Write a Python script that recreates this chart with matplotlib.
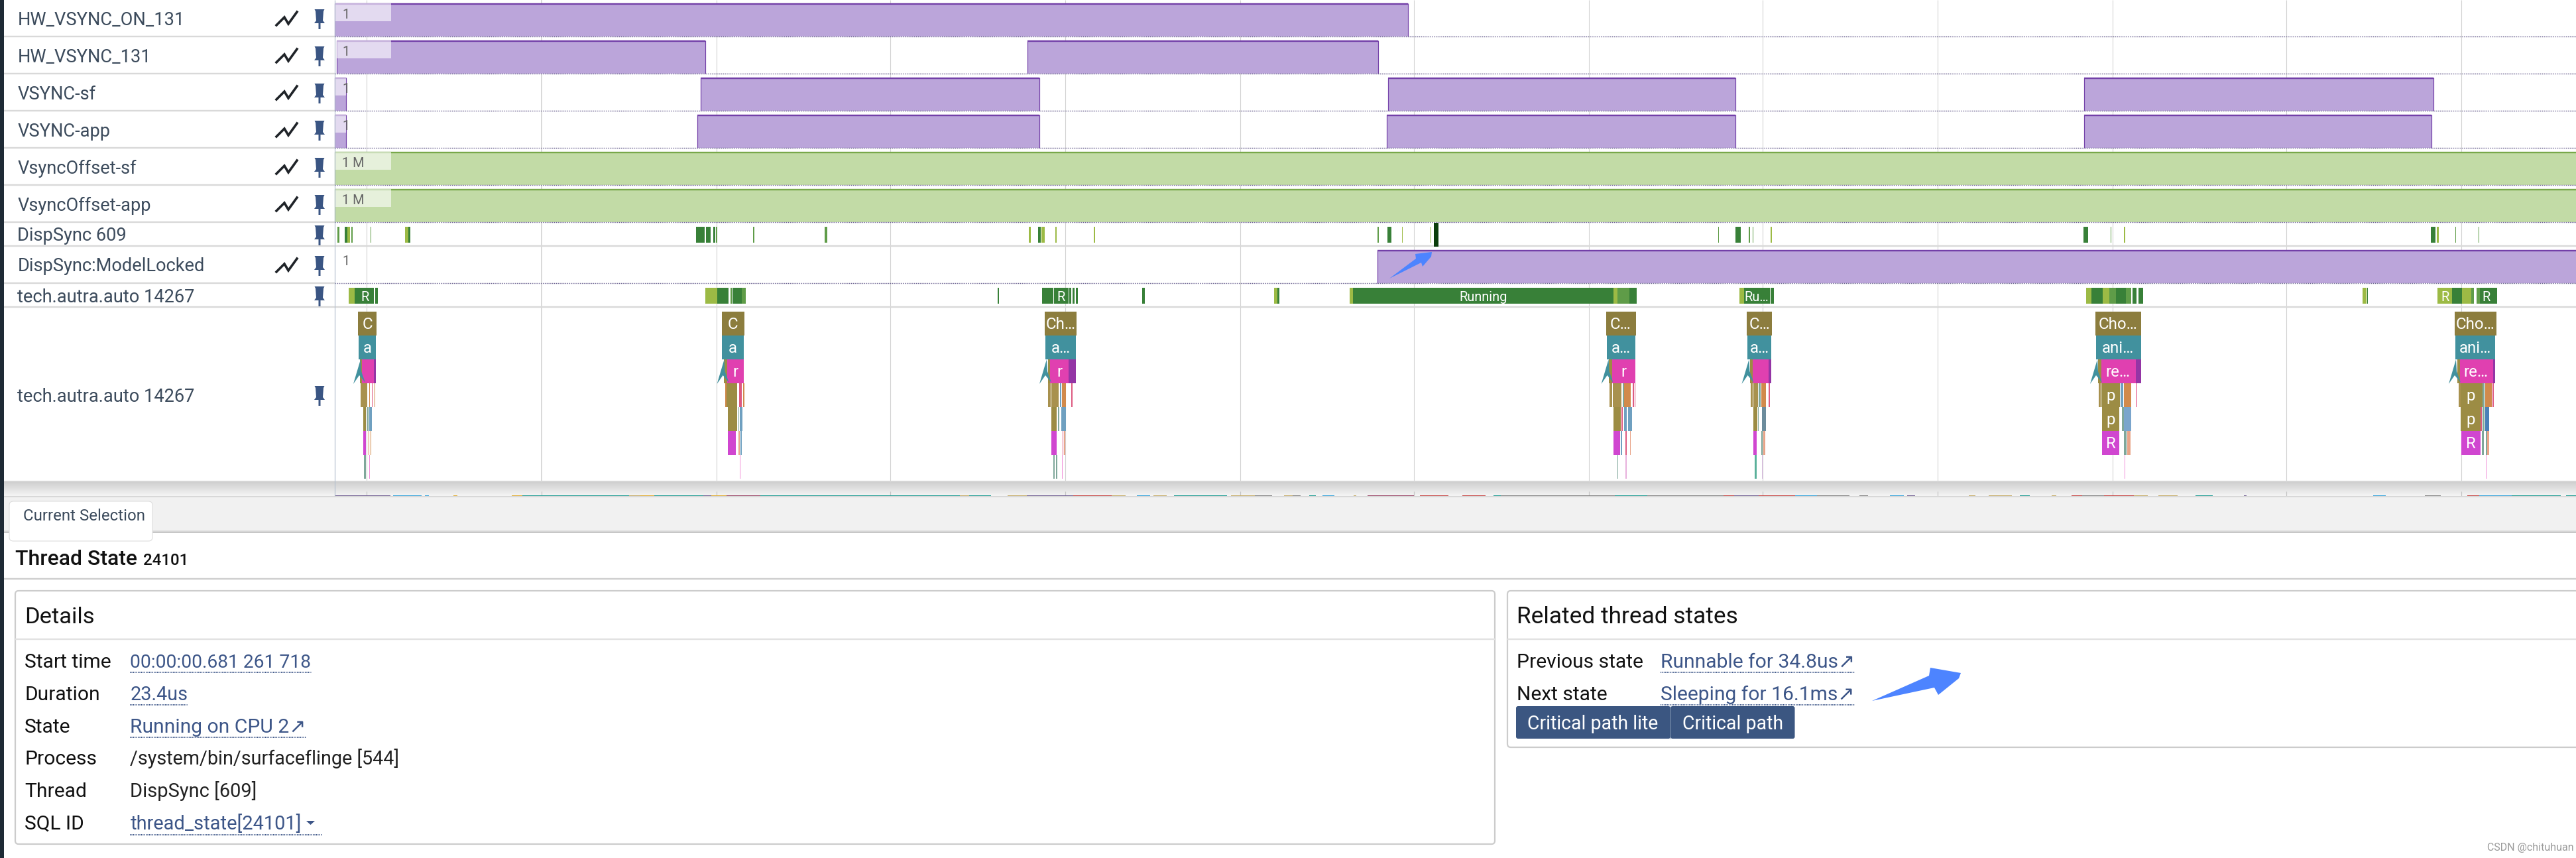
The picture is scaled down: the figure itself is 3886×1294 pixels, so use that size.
import numpy as np
import matplotlib
matplotlib.use("Agg")
import matplotlib.pyplot as plt
from matplotlib.patches import Rectangle, Polygon, FancyBboxPatch

W, H = 3886, 1294
plt.rcParams['font.family'] = ['Roboto', 'DejaVu Sans']

# ---- data (timeline positions) ----
track_names = ["HW_VSYNC_ON_131", "HW_VSYNC_131", "VSYNC-sf", "VSYNC-app", "VsyncOffset-sf",
               "VsyncOffset-app", "DispSync 609", "DispSync:ModelLocked", "tech.autra.auto 14267",
               "tech.autra.auto 14267"]
track_centers = [29, 85, 141, 197, 253, 309, 355, 401, 447, 597]
track_baselines = [38, 94, 150, 206, 262, 318, 363, 409, 456, 606]
track_has_chart = [1, 1, 1, 1, 1, 1, 0, 1, 0, 0]
separators = [55, 111, 167, 223, 279, 335, 371, 427, 463]
dotted_seps = [55, 111, 167, 223, 279, 335, 427]
gridlines = [553, 817, 1081, 1343, 1607, 1871, 2133, 2397, 2659, 2923, 3187, 3449, 3713]

hw_on = [(505, 2124)]
hw = [(507.5, 1064), (1550, 2079)]
vsync_sf = [(505, 522), (1057, 1568), (2093.5, 2618), (3144, 3670.5)]
vsync_app = [(505, 522), (1051.5, 1568), (2092, 2618), (3144, 3668)]
offset_sf = [(505, 3886)]
offset_app = [(505, 3886)]
model_locked = [(2078, 3886)]

counter_labels = ["1", "1", "1", "1", "1 M", "1 M", "1"]
counter_label_base = [28, 84, 140, 196, 252, 308, 400]

disp_sync = [(509, 512, 'm'), (520, 524, 'd'), (524, 528, 'l'), (530, 531.5, 'm'), (558.5, 559.5, 'm'),
             (611, 616, 'l'), (616, 619, 'd'), (1050, 1063, 'd'), (1065, 1072, 'd'), (1076, 1079, 'd'),
             (1080, 1082, 'm'), (1136, 1138, 'm'), (1244, 1248, 'm'), (1552, 1554.5, 'l'), (1566, 1570, 'd'),
             (1571, 1576, 'l'), (1592, 1593.5, 'l'), (1650, 1651.5, 'l'), (2078, 2080, 'm'), (2092.5, 2099, 'd'),
             (2115, 2116, 'l'), (2158, 2159, 'l'), (2591.5, 2593, 'm'), (2618, 2625.5, 'd'), (2638, 2639.5, 'm'),
             (2644, 2645, 'm'), (2670.5, 2673, 'l'), (3143, 3149.5, 'd'), (3184, 3185, 'm'), (3204, 3206, 'l'),
             (3667, 3673.5, 'd'), (3676, 3679, 'l'), (3704, 3705, 'm'), (3739, 3740, 'm')]
disp_sync_selected = (2163, 2170)

tech_state = [(526, 535, 'l'), (535, 564, 'd'), (566, 569.5, 'd'), (1064, 1082, 'l'), (1082, 1099, 'd'),
              (1102, 1103.5, 'm'), (1105, 1119, 'd'), (1119, 1125, 'm'), (1505, 1507, 'd'), (1572, 1589, 'd'),
              (1590, 1612, 'd'), (1613, 1616, 'd'), (1617.5, 1621, 'd'), (1623, 1626, 'd'), (1723, 1727, 'd'),
              (1922, 1927, 'l'), (1927, 1930, 'd'), (2036, 2041, 'l'), (2041, 2434, 'd'), (2434, 2440, 'l'),
              (2440, 2458, 'm'), (2458, 2469, 'd'), (2624, 2631, 'l'), (2631, 2670, 'd'), (2671, 2675.5, 'd'),
              (3147, 3155, 'l'), (3155, 3171.5, 'd'), (3171.5, 3182, 'l'), (3182, 3192, 'm'), (3192, 3207, 'd'),
              (3207, 3215, 'm'), (3216.6, 3223, 'd'), (3225.5, 3233, 'd'), (3563.5, 3570, 'l'), (3571, 3572, 'd'),
              (3677, 3699, 'l'), (3699, 3713.5, 'd'), (3713.5, 3727.5, 'l'), (3727.5, 3732, 'm'), (3736, 3741, 'm'),
              (3741, 3767, 'd')]
tech_state_labels = [(550, "R"), (1601, "R"), (2238, "Running"), (2650, "Ru…"), (3688, "R"), (3750, "R")]

OL, TE, PK, PU, TN, OG, RD, BL, MG, SA, TG, PP = ('#8c7d3e', '#41919e', '#e040b0', '#9435a5', '#a8914e', '#d18a4c',
                                                '#dd5a80', '#6fa0c0', '#d046d0', '#e8a488', '#7fa79a', '#f090d8')
OV = '#9c8c44'
# (depth, start, end, colour, label, label centre)
slices_c1 = [(0, 540, 568, OL, "C", 554), (1, 541, 567, TE, "a", 554), (2, 543, 545.5, OV, "", 0), (2, 545.5, 564, PK, "", 0),
             (2, 564, 567, PU, "", 0), (3, 544, 554, TN, "", 0), (3, 557, 558, OG, "", 0), (3, 560.5, 562, RD, "", 0),
             (3, 564.5, 565.5, OG, "", 0), (4, 548, 552, OV, "", 0), (4, 554, 555.5, TG, "", 0), (4, 557, 560.5, BL, "", 0),
             (5, 548, 552, MG, "", 0), (5, 555.5, 556.5, OG, "", 0), (5, 558.5, 559.5, OG, "", 0), (6, 549, 552, TG, "", 0),
             (6, 556.5, 557.5, PP, "", 0)]
slices_c2 = [(0, 1088.5, 1123, OL, "C", 1105.5), (1, 1088.5, 1122, TE, "a", 1105), (2, 1092, 1096.5, OV, "", 0),
             (2, 1096.5, 1122, PK, "r", 1109), (3, 1094, 1095.5, OG, "", 0), (3, 1095.5, 1112, OV, "", 0), (3, 1115, 1119, RD, "", 0),
             (3, 1121, 1123, OG, "", 0), (4, 1098, 1112, OV, "", 0), (4, 1114, 1115, TG, "", 0), (4, 1116, 1120, BL, "", 0),
             (5, 1098, 1110, MG, "", 0), (5, 1114, 1116, SA, "", 0), (5, 1117, 1119, BL, "", 0), (6, 1116, 1117, PP, "", 0)]
slices_c3 = [(0, 1576, 1624, OL, "Ch…", 1600), (1, 1577, 1623, TE, "a…", 1600), (2, 1581, 1584, OV, "", 0),
             (2, 1584, 1612, PK, "r", 1598), (2, 1612, 1623, PU, "", 0), (3, 1581, 1585, TN, "", 0), (3, 1586, 1597, TN, "", 0),
             (3, 1598.5, 1601, BL, "", 0), (3, 1602, 1607.5, OG, "", 0), (3, 1616, 1617.5, RD, "", 0), (4, 1586, 1594, OV, "", 0),
             (4, 1596, 1597.5, TG, "", 0), (4, 1601, 1607.5, BL, "", 0), (5, 1586, 1593.5, MG, "", 0), (5, 1602.5, 1604, RD, "", 0),
             (5, 1605, 1607, SA, "", 0), (6, 1589, 1591, TG, "", 0), (6, 1593, 1594.5, TG, "", 0), (6, 1602, 1603, PP, "", 0)]
slices_c4 = [(0, 2423, 2468, OL, "C…", 2445), (1, 2424, 2467, TE, "a…", 2445), (2, 2427, 2432, OV, "", 0),
             (2, 2432, 2466.5, PK, "r", 2449), (2, 2466.5, 2467, PU, "", 0), (3, 2428, 2431.5, TN, "", 0), (3, 2433, 2446, TN, "", 0),
             (3, 2448, 2449.5, TG, "", 0), (3, 2450, 2460, OG, "", 0), (3, 2463, 2464.5, RD, "", 0), (3, 2465.5, 2467, RD, "", 0),
             (4, 2434, 2445, OV, "", 0), (4, 2446, 2448, RD, "", 0), (4, 2449.5, 2454, BL, "", 0), (4, 2456, 2462, BL, "", 0),
             (5, 2434, 2444, MG, "", 0), (5, 2445, 2447, BL, "", 0), (5, 2452, 2454, RD, "", 0), (5, 2459, 2460, SA, "", 0),
             (6, 2440, 2441, TG, "", 0), (6, 2452, 2454, '#e8b0dc', "", 0)]
slices_c5 = [(0, 2635, 2673, OL, "C…", 2654), (1, 2636, 2672, TE, "a…", 2654), (2, 2640, 2644, OV, "", 0),
             (2, 2644, 2668, PK, "", 0), (2, 2668, 2672, PU, "", 0), (3, 2641, 2644, TN, "", 0), (3, 2645, 2651.5, TN, "", 0),
             (3, 2652.5, 2656, TG, "", 0), (3, 2656.5, 2664, OG, "", 0), (3, 2668, 2670, RD, "", 0), (4, 2645, 2651, OV, "", 0),
             (4, 2651.5, 2653, TG, "", 0), (4, 2657.5, 2664, '#6c8c9c', "", 0), (5, 2645, 2650, MG, "", 0), (5, 2656.5, 2659, TG, "", 0),
             (5, 2660, 2663, SA, "", 0), (6, 2647, 2650, '#5ab09a', "", 0), (6, 2657.5, 2659, '#d8b8e0', "", 0)]
slices_c6 = [(0, 3161, 3230, OL, "Cho…", 3195), (1, 3162, 3230, TE, "ani…", 3195), (2, 3165, 3170, OV, "", 0),
             (2, 3170, 3221.5, PK, "re…", 3195), (2, 3221.5, 3230, PU, "", 0), (3, 3166, 3169, TN, "", 0), (3, 3170, 3198, OV, "p", 3184),
             (3, 3199, 3203, BL, "", 0), (3, 3203.5, 3215, OG, "", 0), (3, 3221.5, 3223, '#dd3070', "", 0), (4, 3170.5, 3197, OV, "p", 3184),
             (4, 3201, 3204, TG, "", 0), (4, 3204, 3215, '#7aa5cc', "", 0), (5, 3170.5, 3197, MG, "R", 3184), (5, 3203.5, 3208, TG, "", 0),
             (5, 3209, 3214, SA, "", 0), (6, 3204.5, 3205.5, PP, "", 0)]
slices_c7 = [(0, 3703, 3766, OL, "Cho…", 3734.5), (1, 3704, 3764, TE, "ani…", 3734), (2, 3707, 3711, OV, "", 0),
             (2, 3711, 3761, PK, "re…", 3735), (2, 3761, 3764, PU, "", 0), (3, 3709, 3711.5, TN, "", 0), (3, 3711.5, 3744.5, OV, "p", 3727),
             (3, 3745, 3748, TG, "", 0), (3, 3749, 3759, OG, "", 0), (3, 3760, 3761.5, RD, "", 0), (4, 3712, 3741.5, OV, "p", 3727),
             (4, 3741.5, 3744, RD, "", 0), (4, 3745, 3747.5, TG, "", 0), (4, 3749, 3755, '#4a80b8', "", 0), (5, 3713, 3742, MG, "R", 3727),
             (5, 3744, 3746.5, TG, "", 0), (5, 3749.5, 3752, TG, "", 0), (5, 3752, 3755, SA, "", 0), (6, 3750, 3751, PP, "", 0)]
all_slices = [slices_c1, slices_c2, slices_c3, slices_c4, slices_c5, slices_c6, slices_c7]
arrow_tips = [544, 1092.6, 1579, 2426.6, 2638.5, 3164, 3705]

TL, YL, PG, GY, RE, MP, BU, TA = ('#2aa198', '#e2b13c', '#7a6a9a', '#8a8a8a', '#c9504f', '#a05070', '#3fa7dd', '#c8b070')
overview = [(505, 589, PG), (593, 636, BU), (641, 647, BU), (684, 690, YL), (772, 788, YL), (788, 949, TL), (949, 966, TA),
            (966, 987, YL), (987, 1061, TL), (1061, 1073, PG), (1073, 1096, YL), (1096, 1147, MP), (1147, 1448, TL),
            (1448, 1462, TA), (1462, 1495, TL), (1520, 1549, TA), (1549, 1619, PG), (1619, 1677, RE), (1677, 1698, TA),
            (1715, 1735, BU), (1740, 1760, TA), (1771, 1851, TL), (1857, 1893, TA), (1893, 1919, GY), (1937, 1950, TA),
            (1950, 1962, GY), (1975, 1985, TL), (1995, 2013, BU), (2042, 2046, TA), (2063, 2133, MP), (2142, 2185, RE),
            (2206, 2241, RE), (2253, 2264, TL), (2264, 2436, GY), (2436, 2485, TL), (2485, 2600, GY), (2600, 2616, RE),
            (2616, 2653, PG), (2653, 2708, RE), (2708, 2741, BU), (2741, 2790, GY), (2805, 2818, GY), (2851, 2872, BU),
            (2877, 2889, PG), (2970, 2980, TA), (3000, 3035, TA), (3047, 3062, TL), (3095, 3102, TA), (3125, 3141, RE),
            (3141, 3174, GY), (3174, 3219, RE), (3219, 3240, TA), (3256, 3285, TA), (3312, 3338, TL), (3385, 3389, PG),
            (3580, 3599, BU), (3658, 3682, GY), (3722, 3740, RE), (3740, 3789, BU), (3789, 3863, TL), (3871, 3886, TL)]

detail_labels = ["Start time", "Duration", "State", "Process", "Thread", "SQL ID"]
detail_values = ["00:00:00.681 261 718", "23.4us", "Running on CPU 2↗", "/system/bin/surfaceflinge [544]",
                 "DispSync [609]", "thread_state[24101]"]
detail_is_link = [1, 1, 1, 0, 0, 1]
detail_underlines = [(196, 470), (196, 283), (196, 462), None, None, (196, 486)]
detail_baselines = [1007, 1056, 1105, 1153, 1202, 1251]
detail_ul_y = [1014, 1063, 1112, None, None, 1259]
detail_value_sizes = [28.2, 28.8, 30, 28.8, 29, 29]
related_labels = ["Previous state", "Next state"]
related_values = ["Runnable for 34.8us↗", "Sleeping for 16.1ms↗"]
buttons = [(2287, 2520, "Critical path lite", 2304), (2520, 2707.5, "Critical path", 2538)]

big_arrow = [(2824, 1057), (2910, 1019), (2912, 1007), (2958, 1015), (2955, 1023), (2924, 1048), (2918, 1037)]
small_arrow = [(2096, 420), (2136, 390), (2135, 383), (2160, 380), (2159, 387), (2146, 402), (2144, 396)]

# ---- drawing ----
fig = plt.figure(figsize=(W / 100, H / 100), dpi=100)
ax = fig.add_axes([0, 0, 1, 1])
ax.set_xlim(0, W)
ax.set_ylim(H, 0)
ax.axis('off')


def px(size):
    return size * 0.72


def rect(x0, x1, y0, y1, color, z=2, alpha=None):
    ax.add_patch(Rectangle((x0, y0), x1 - x0, y1 - y0, facecolor=color, edgecolor='none', zorder=z, alpha=alpha, lw=0))


def hline(x0, x1, y, color, lwpx, z=3, ls='-'):
    ax.plot([x0, x1], [y, y], color=color, lw=lwpx * 0.72, zorder=z, ls=ls, solid_capstyle='butt', dash_capstyle='butt')


def vline(x, y0, y1, color, lwpx, z=1):
    ax.plot([x, x], [y0, y1], color=color, lw=lwpx * 0.72, zorder=z, solid_capstyle='butt')


def grad(x0, x1, y0, y1, c0, c1, z=1):
    g = np.linspace(c0, c1, 64).reshape(-1, 1)
    ax.imshow(g, extent=(x0, x1, y1, y0), cmap='gray', vmin=0, vmax=255, aspect='auto', zorder=z, interpolation='bilinear')


# backgrounds
rect(0, W, 0, 726, 'white', 0)
rect(0, W, 726, 804, '#f1f1f1', 0)
grad(0, W, 726, 748, 206, 244, 0.5)
grad(0, W, 799, 804, 240, 190, 0.5)
ax.set_xlim(0, W)
ax.set_ylim(H, 0)

# grid
for g in gridlines:
    vline(g, 0, 728, '#d2d2d2', 1.6 if g == 817 else 1.1)
    vline(g, 741, 748, '#c4c4c4', 1.2)
vline(505, 0, 748, '#b4c0cf', 1.2, 4)

# separators
for s in separators:
    hline(6, 505 if s in dotted_seps else W, s, '#d9d9d9', 2.4, 1.5)
for s in dotted_seps:
    hline(505, W, s, '#6b6290', 1.4, 3.5, ls=(0, (1, 1)))
hline(6, W, 726, '#d6d6d6', 2, 1.5)


# counter tracks
def counter(spans, top, bottom, fill, edge):
    for x0, x1 in spans:
        rect(x0, x1, top, bottom, fill, 2)
        hline(x0, x1, top + 1, edge, 2.4, 3)
        vline(x0, top, bottom, edge, 1.2, 3)
        if x1 < W:
            vline(x1, top, bottom, edge, 1.2, 3)


PURPLE, PEDGE = '#bba5da', '#7340a8'
GREEN, GEDGE = '#c2dba6', '#78a84a'
counter(hw_on, 5, 55, PURPLE, PEDGE)
counter(hw, 61, 111, PURPLE, PEDGE)
counter(vsync_sf, 117, 167, PURPLE, PEDGE)
counter(vsync_app, 173, 223, PURPLE, PEDGE)
counter(offset_sf, 229, 279, GREEN, GEDGE)
counter(offset_app, 285, 335, GREEN, GEDGE)
counter(model_locked, 377, 427, PURPLE, PEDGE)

# counter label boxes
box_spans = [(505, 590), (507.5, 590), (505, 522), (505, 522), (505, 590), (505, 590)]
box_tops = [5, 61, 117, 173, 229, 285]
for (a, b), t in zip(box_spans, box_tops):
    rect(a, b, t, t + 27, 'white', 3.2, 0.6)
for lab, base in zip(counter_labels, counter_label_base):
    ax.text(516, base, lab, fontsize=px(20), color='#666666', va='baseline', ha='left', zorder=6)

# thread state ticks
state_colors = {'l': '#9cba45', 'm': '#5f9c48', 'd': '#388038'}
for a, b, c in disp_sync:
    rect(a, b, 342, 366, state_colors[c], 3)
rect(disp_sync_selected[0], disp_sync_selected[1], 336, 372, '#0b3d0b', 5)
for a, b, c in tech_state:
    rect(a, b, 434, 458, state_colors[c], 3)
for x, lab in tech_state_labels:
    ax.text(x, 454, lab, fontsize=px(20), color='white', ha='center', va='baseline', zorder=5)

# flame slices
SLICE_TOP, SLICE_H = 470, 36
for cluster in all_slices:
    for d, a, b, col, lab, cx in cluster:
        y0 = SLICE_TOP + d * SLICE_H
        rect(a, b, y0, y0 + SLICE_H, col, 3)
        if lab:
            ax.text(cx, y0 + 26, lab, fontsize=px(24), color='white', ha='center', va='baseline', zorder=6)
for tip in arrow_tips:
    ax.add_patch(Polygon([(tip, 542), (tip - 11, 579), (tip - 2, 566), (tip + 7, 577), (tip + 1, 560)],
                         closed=True, facecolor=TE, edgecolor='none', zorder=5))

# overview strip
for a, b, c in overview:
    rect(a, b, 746.8, 748.4, c, 3)
rect(0, W, 748.4, 750.4, '#d8d8d8', 3)

# track labels and icons
PIN = '#3a5583'
for name, cy, base, chart in zip(track_names, track_centers, track_baselines, track_has_chart):
    ax.text(26.5, base, name, fontsize=px(27.2), color='#3c4b5c', ha='left', va='baseline', zorder=6)
    ax.add_patch(Polygon([(474.5, cy - 15), (489.5, cy - 15), (488, cy - 12), (487, cy + 2), (490, cy + 6), (483.5, cy + 6),
                          (483.5, cy + 15), (480.5, cy + 15), (480.5, cy + 6), (474, cy + 6), (477, cy + 2), (476, cy - 12)],
                         closed=True, facecolor=PIN, edgecolor='none', zorder=6))
    if chart:
        ax.plot([417, 429, 435, 448], [cy + 9, cy - 3, cy + 7, cy - 11], color='#1f2328', lw=px(3.6), zorder=6,
                solid_joinstyle='miter')

# left strip
rect(0, 6, 0, H, '#1e2a35', 9)

# bottom panel
rect(6, W, 804, H, 'white', 0.2)
ax.add_patch(FancyBboxPatch((14, 756), 216, 60, boxstyle='round,pad=0,rounding_size=6', facecolor='white',
                            edgecolor='#dddddd', lw=0.8, zorder=1))
rect(15, 229, 800, 806, 'white', 1.2)
ax.text(35, 785, "Current Selection", fontsize=px(24), color='#3c4b5c', ha='left', va='baseline', zorder=6)
ax.text(23, 852, "Thread State", fontsize=px(32), color='#111111', ha='left', va='baseline', fontweight='medium', zorder=6)
ax.text(216, 852, "24101", fontsize=px(24), color='#111111', ha='left', va='baseline', fontweight='medium', zorder=6)
hline(6, W, 873, '#cfcfcf', 2.4, 2)

for x0, x1, y0, y1 in [(23, 2255, 891, 1273), (2274, 3900, 891, 1127)]:
    ax.add_patch(FancyBboxPatch((x0, y0), x1 - x0, y1 - y0, boxstyle='round,pad=0,rounding_size=5', facecolor='white',
                                edgecolor='#cccccc', lw=px(2.2), zorder=1))
    hline(x0, x1, 964, '#e2e2e2', 2.4, 2)

TITLE = '#111111'
LINK = '#3d5688'
ax.text(37, 940, "Details", fontsize=px(34.5), color=TITLE, ha='left', va='baseline', zorder=6)
ax.text(2288, 940, "Related thread states", fontsize=px(35.2), color=TITLE, ha='left', va='baseline', zorder=6)
for lab, val, link, ul, base, uy, sz in zip(detail_labels, detail_values, detail_is_link, detail_underlines,
                                           detail_baselines, detail_ul_y, detail_value_sizes):
    ax.text(37, base, lab, fontsize=px(30), color=TITLE, ha='left', va='baseline', zorder=6)
    ax.text(196.5, base, val, fontsize=px(sz), color=LINK if link else '#222222', ha='left', va='baseline', zorder=6)
    if ul:
        hline(ul[0], ul[1], uy, LINK, 2, 6, ls=(0, (0.6, 0.6)))
ax.add_patch(Polygon([(462, 1238), (475, 1238), (468.5, 1244)], closed=True, facecolor=LINK, edgecolor='none', zorder=6))

for lab, val, base, uy in zip(related_labels, related_values, detail_baselines[:2], detail_ul_y[:2]):
    ax.text(2288, base, lab, fontsize=px(30), color=TITLE, ha='left', va='baseline', zorder=6)
    ax.text(2505, base, val, fontsize=px(30), color=LINK, ha='left', va='baseline', zorder=6)
    hline(2505, 2798, uy, LINK, 2, 6, ls=(0, (0.6, 0.6)))
for a, b, lab, tx in buttons:
    ax.add_patch(FancyBboxPatch((a, 1065), b - a, 49, boxstyle='round,pad=0,rounding_size=3', facecolor='#3b5681',
                                edgecolor='none', zorder=4))
    ax.text(tx, 1100, lab, fontsize=px(28.5), color='white', ha='left', va='baseline', zorder=6)
vline(2520, 1065, 1114, '#7f93b0', 1, 5)

for arr in (big_arrow, small_arrow):
    ax.add_patch(Polygon(arr, closed=True, facecolor='#4d84ff', edgecolor='none', zorder=8))

ax.text(3752, 1283, "CSDN @chituhuan", fontsize=px(16), color='#9a9a9a', ha='left', va='baseline', zorder=6)

fig.savefig('out.png', dpi=100)
